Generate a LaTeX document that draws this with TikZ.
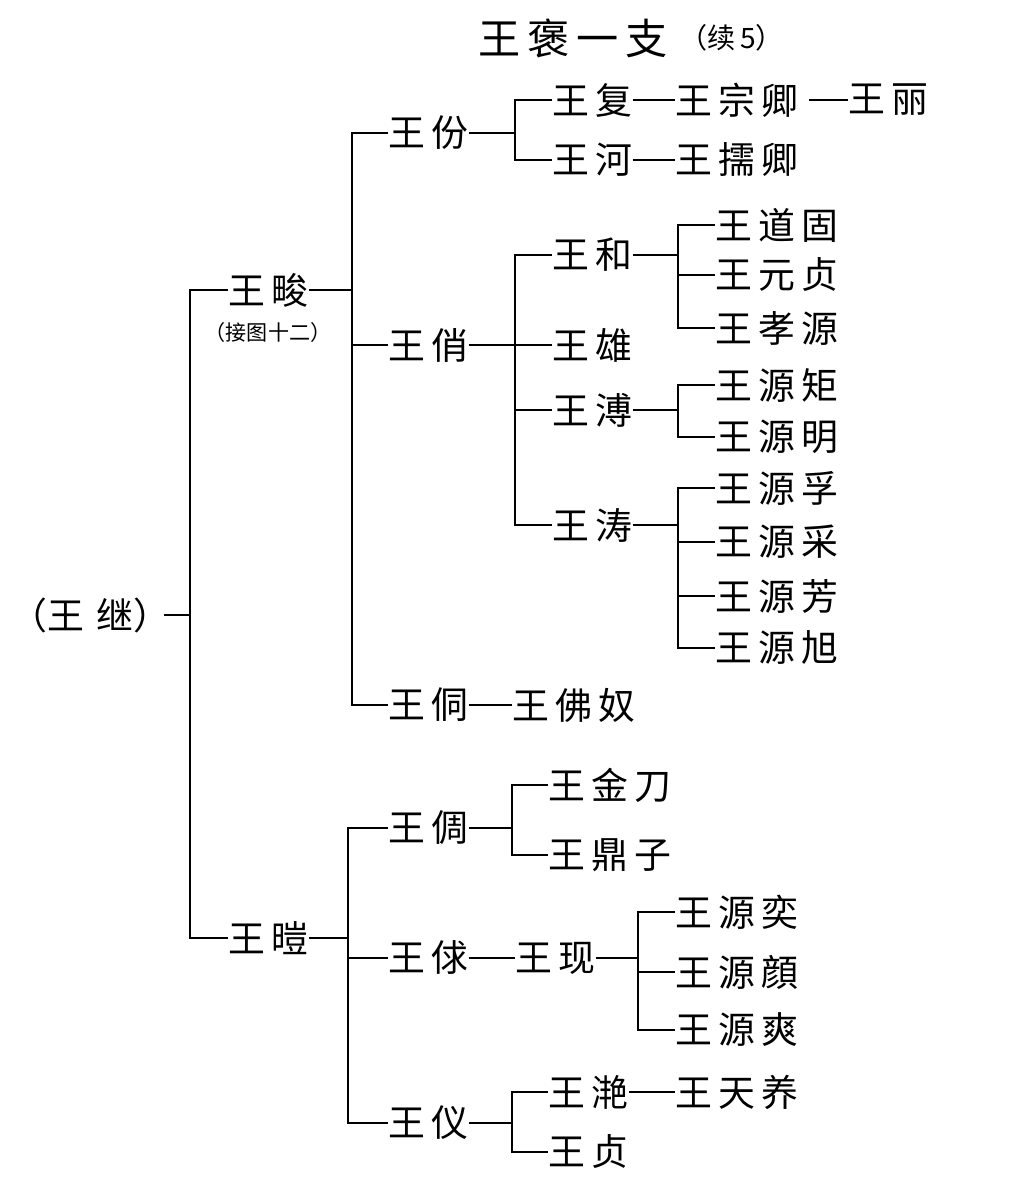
\documentclass[tikz,border=0pt]{standalone}
\usepackage{fontspec}
\setmainfont{Noto Sans CJK SC}
\usetikzlibrary{positioning}
\tikzset{nm/.style={anchor=west,inner sep=0pt,font=\fontsize{21}{21}\selectfont},
         ln/.style={line width=0.9pt}}
\begin{document}
\begin{tikzpicture}[x=0.02cm,y=-0.02cm]
            \useasboundingbox (0,0) rectangle (1014,1180);
            % title
            \node[nm,font=\fontsize{24}{24}\selectfont] (title) at (478,38) {王\,褒\,一\,支};
            \node[nm,font=\fontsize{16}{16}\selectfont,right=6pt of title] (cont) {（续\,5）};
            % root
            \node[nm] (ji) at (10,615) {（王\,\,继）};
            \coordinate (j0) at (190,615);
            \draw[ln] (ji.east) ++(-4pt,0) -- (j0);
            \node[nm] (jun) at (228,290) {王\,畯};
            \node[font=\fontsize{12}{12}\selectfont,inner sep=0pt] (jie) at (268,332) {（接图十二）};
            \node[nm] (kai) at (228,938) {王\,暟};
            \draw[ln] (jun.west) -| (j0) |- (kai.west);
            % first branch
            \coordinate (j1) at (352,290);
            \draw[ln] (jun.east) -- (j1);
            \node[nm] (fen) at (388,133) {王\,份};
            \node[nm] (qiao) at (388,345) {王\,俏};
            \node[nm] (dong) at (388,705) {王\,侗};
            \draw[ln] (fen.west) -| (j1) |- (dong.west);
            \draw[ln] (qiao.west) -- (qiao.west -| j1);
            % wang fen
            \coordinate (j2) at (515,133);
            \draw[ln] (fen.east) -- (j2);
            \node[nm] (fu) at (552,100) {王\,复};
            \node[nm] (he) at (552,160) {王\,河};
            \draw[ln] (fu.west) -| (j2) |- (he.west);
            \node[nm] (zongqing) at (675,100) {王\,宗\,卿};
            \node[nm] (li) at (848,100) {王\,丽};
            \node[nm] (ruqing) at (675,160) {王\,擩\,卿};
            \draw[ln] (fu) -- (zongqing);
            \draw[ln] (zongqing.east) ++(6pt,0) -- (li.west);
            \draw[ln] (he) -- (ruqing);
            % wang qiao
            \coordinate (j3) at (515,345);
            \draw[ln] (qiao.east) -- (j3);
            \node[nm] (hehe) at (552,255) {王\,和};
            \node[nm] (xiong) at (552,345) {王\,雄};
            \node[nm] (pu) at (552,410) {王\,溥};
            \node[nm] (tao) at (552,525) {王\,涛};
            \draw[ln] (hehe.west) -| (j3) |- (tao.west);
            \draw[ln] (j3) -- (xiong.west);
            \draw[ln] (pu.west) -- (pu.west -| j3);
            % wang he
            \coordinate (j4) at (678,255);
            \draw[ln] (hehe.east) -- (j4);
            \node[nm] (daogu) at (715,225) {王\,道\,固};
            \node[nm] (yuanzhen) at (715,275) {王\,元\,贞};
            \node[nm] (xiaoyuan) at (715,328) {王\,孝\,源};
            \draw[ln] (daogu.west) -| (j4) |- (xiaoyuan.west);
            \draw[ln] (yuanzhen.west) -- (yuanzhen.west -| j4);
            % wang pu
            \coordinate (j5) at (678,410);
            \draw[ln] (pu.east) -- (j5);
            \node[nm] (yuanju) at (715,385) {王\,源\,矩};
            \node[nm] (yuanming) at (715,437) {王\,源\,明};
            \draw[ln] (yuanju.west) -| (j5) |- (yuanming.west);
            % wang tao
            \coordinate (j6) at (678,525);
            \draw[ln] (tao.east) -- (j6);
            \node[nm] (yuanfu) at (715,488) {王\,源\,孚};
            \node[nm] (yuancai) at (715,542) {王\,源\,采};
            \node[nm] (yuanfang) at (715,596) {王\,源\,芳};
            \node[nm] (yuanxu) at (715,648) {王\,源\,旭};
            \draw[ln] (yuanfu.west) -| (j6) |- (yuanxu.west);
            \draw[ln] (yuancai.west) -- (yuancai.west -| j6);
            \draw[ln] (yuanfang.west) -- (yuanfang.west -| j6);
            % wang dong
            \node[nm] (fonu) at (512,705) {王\,佛\,奴};
            \draw[ln] (dong) -- (fonu);
            % second branch
            \coordinate (j7) at (348,938);
            \draw[ln] (kai.east) -- (j7);
            \node[nm] (ti) at (388,828) {王\,倜};
            \node[nm] (qiu) at (388,958) {王\,俅};
            \node[nm] (yi) at (388,1123) {王\,仪};
            \draw[ln] (ti.west) -| (j7) |- (yi.west);
            \draw[ln] (qiu.west) -- (qiu.west -| j7);
            % wang ti
            \coordinate (j8) at (512,828);
            \draw[ln] (ti.east) -- (j8);
            \node[nm] (jindao) at (548,785) {王\,金\,刀};
            \node[nm] (dingzi) at (548,855) {王\,鼎\,子};
            \draw[ln] (jindao.west) -| (j8) |- (dingzi.west);
            % wang qiu
            \node[nm] (xian) at (515,958) {王\,现};
            \draw[ln] (qiu) -- (xian);
            \coordinate (j9) at (638,958);
            \draw[ln] (xian.east) -- (j9);
            \node[nm] (yuanyi) at (675,912) {王\,源\,奕};
            \node[nm] (yuanyan) at (675,972) {王\,源\,顔};
            \node[nm] (yuanshuang) at (675,1030) {王\,源\,爽};
            \draw[ln] (yuanyi.west) -| (j9) |- (yuanshuang.west);
            \draw[ln] (yuanyan.west) -- (yuanyan.west -| j9);
            % wang yi
            \coordinate (j10) at (512,1123);
            \draw[ln] (yi.east) -- (j10);
            \node[nm] (yan) at (548,1092) {王\,滟};
            \node[nm] (zhen) at (548,1152) {王\,贞};
            \draw[ln] (yan.west) -| (j10) |- (zhen.west);
            \node[nm] (tianyang) at (675,1092) {王\,天\,养};
            \draw[ln] (yan) -- (tianyang);
\end{tikzpicture}
\end{document}
